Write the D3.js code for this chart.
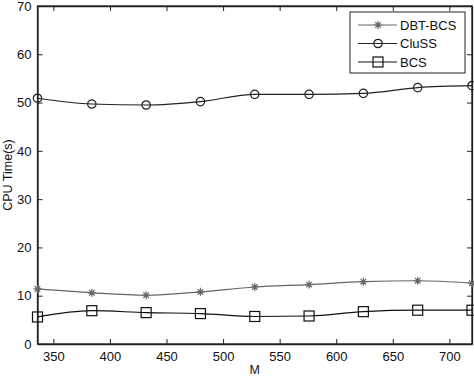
<!DOCTYPE html>
<html>
<head>
<meta charset="utf-8">
<script src="https://cdn.jsdelivr.net/npm/d3@7"></script>
<style>
  body { margin: 0; background: #fff; }
  svg text { font-family: "Liberation Sans", Arial, sans-serif; font-size: 12.5px; fill: #111; }
</style>
</head>
<body>
<div id="chart"></div>
<script>
// data
const mValues = [336, 384, 432, 480, 528, 576, 624, 672, 720];
const dbtBcs = [11.4, 10.6, 10.1, 10.8, 11.8, 12.3, 12.9, 13.1, 12.6];
const cluss = [50.9, 49.7, 49.5, 50.2, 51.7, 51.7, 51.9, 53.1, 53.5];
const bcs = [5.6, 6.9, 6.5, 6.3, 5.7, 5.8, 6.7, 7.0, 7.0];
const xTicks = [350, 400, 450, 500, 550, 600, 650, 700];
const yTicks = [0, 10, 20, 30, 40, 50, 60, 70];
const seriesNames = ["DBT-BCS", "CluSS", "BCS"];

const W = 474, H = 377;
const margin = {top: 6, right: 2, bottom: 33, left: 37.5};
const width = W - margin.left - margin.right,
      height = H - margin.top - margin.bottom;

const svg = d3.select("#chart").append("svg")
    .attr("width", W)
    .attr("height", H);

const g = svg.append("g")
    .attr("transform", "translate(" + margin.left + "," + margin.top + ")");

const x = d3.scaleLinear().domain([336, 720]).range([0, width]);
const y = d3.scaleLinear().domain([0, 70]).range([height, 0]);

const series = [
  {name: seriesNames[0], values: dbtBcs, color: "#666", marker: "star"},
  {name: seriesNames[1], values: cluss, color: "#222", marker: "circle"},
  {name: seriesNames[2], values: bcs, color: "#111", marker: "square"}
];

// axes, ticks inward on all four sides
const tl = 5;
g.append("g")
    .attr("transform", "translate(0," + height + ")")
    .call(d3.axisBottom(x).tickValues(xTicks).tickSizeInner(-tl).tickSizeOuter(0).tickPadding(8));
g.append("g")
    .call(d3.axisTop(x).tickValues(xTicks).tickSizeInner(-tl).tickSizeOuter(0).tickFormat(""));
g.append("g")
    .call(d3.axisLeft(y).tickValues(yTicks).tickSizeInner(-tl).tickSizeOuter(0).tickPadding(6));
g.append("g")
    .attr("transform", "translate(" + width + ",0)")
    .call(d3.axisRight(y).tickValues(yTicks).tickSizeInner(-tl).tickSizeOuter(0).tickFormat(""));

g.selectAll(".domain").attr("stroke", "#222").attr("stroke-width", 1.3);
g.selectAll(".tick line").attr("stroke", "#222");
g.selectAll(".tick text").style("font-size", "13px");

g.append("rect")
    .attr("width", width).attr("height", height)
    .attr("fill", "none").attr("stroke", "#222").attr("stroke-width", 1.3);

// axis labels
svg.append("text")
    .attr("x", margin.left + x(528))
    .attr("y", H - 3)
    .style("text-anchor", "middle")
    .text("M");
svg.append("text")
    .attr("transform", "rotate(-90)")
    .attr("x", -(margin.top + height / 2))
    .attr("y", 12)
    .style("text-anchor", "middle")
    .text("CPU Time(s)");

function drawMarker(sel, type, color) {
  if (type === "circle") {
    sel.append("circle").attr("r", 4.2).attr("fill", "none").attr("stroke", color).attr("stroke-width", 1.2);
  } else if (type === "square") {
    sel.append("rect").attr("x", -5).attr("y", -5).attr("width", 10).attr("height", 10)
        .attr("fill", "none").attr("stroke", color).attr("stroke-width", 1.2);
  } else {
    const s = 4;
    sel.append("path")
        .attr("d", "M0," + (-s) + "V" + s + "M" + (-s) + ",0H" + s +
                   "M" + (-s*0.7) + "," + (-s*0.7) + "L" + (s*0.7) + "," + (s*0.7) +
                   "M" + (-s*0.7) + "," + (s*0.7) + "L" + (s*0.7) + "," + (-s*0.7))
        .attr("stroke", color).attr("stroke-width", 1.2).attr("fill", "none");
  }
}

const line = d3.line()
    .x((d, i) => x(mValues[i]))
    .y((d) => y(d))
    .curve(d3.curveMonotoneX);

series.forEach((s) => {
  g.append("path")
      .datum(s.values)
      .attr("d", line)
      .attr("fill", "none")
      .attr("stroke", s.color)
      .attr("stroke-width", 1.2);
  g.selectAll(".m-" + s.marker)
      .data(s.values)
    .enter().append("g")
      .attr("class", "m-" + s.marker)
      .attr("transform", (d, i) => "translate(" + x(mValues[i]) + "," + y(d) + ")")
      .each(function() { drawMarker(d3.select(this), s.marker, s.color); });
});

// legend
const lg = svg.append("g").attr("transform", "translate(350,12)");
lg.append("rect")
    .attr("width", 115).attr("height", 61)
    .attr("fill", "#fff").attr("stroke", "#222").attr("stroke-width", 1);
series.forEach((s, i) => {
  const row = lg.append("g").attr("transform", "translate(0," + (13 + i * 18.5) + ")");
  row.append("line").attr("x1", 8).attr("x2", 47).attr("stroke", s.color).attr("stroke-width", 1.2);
  drawMarker(row.append("g").attr("transform", "translate(28,0)"), s.marker, s.color);
  row.append("text").attr("x", 50).attr("dy", "0.36em").style("font-size", "13px").text(s.name);
});
</script>
</body>
</html>
